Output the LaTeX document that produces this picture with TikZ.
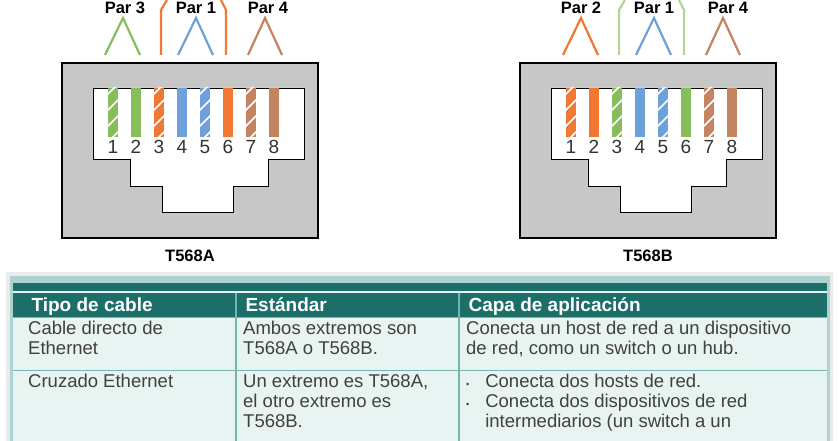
\documentclass[tikz,border=0pt]{standalone}
\usepackage{fontspec}
\setmainfont{Liberation Sans}
\begin{document}
\begin{tikzpicture}[x=1pt,y=-1pt,
  par/.style={font=\bfseries\fontsize{16.5}{16}\selectfont,anchor=base},
  num/.style={font=\fontsize{19}{19}\selectfont,text=black!80},
  lbl/.style={font=\bfseries\fontsize{16.5}{16}\selectfont},
  chev/.style={line width=2.2pt},
  hdr/.style={font=\fontsize{19}{19}\selectfont\bfseries,text=white,anchor=base west},
  cell/.style={font=\fontsize{18.5}{20}\selectfont,text=black!75,anchor=north west,align=left,inner sep=1pt}]
\definecolor{wg}{RGB}{134,190,90}
\definecolor{wgl}{RGB}{176,214,150}
\definecolor{wo}{RGB}{240,120,50}
\definecolor{wb}{RGB}{110,160,220}
\definecolor{wn}{RGB}{196,132,96}
\definecolor{tealdk}{RGB}{28,110,104}
\definecolor{teallt}{RGB}{232,244,242}
\definecolor{tealbd}{RGB}{120,180,175}
\useasboundingbox (0,0) rectangle (839,441);
\fill[white] (0,0) rectangle (839,441);
\newcommand\wire[4]{% x offset, center, color, striped
  \fill[#3] (#1+#2-5,88) rectangle (#1+#2+5,137);
  \ifnum#4=1
  \begin{scope}
  \clip (#1+#2-5,88) rectangle (#1+#2+5,137);
  \foreach \yy in {96,112,128,144}{\draw[white,line width=1.6pt] (#1+#2-7,\yy) -- (#1+#2+7,\yy-14);}
  \end{scope}\fi}
\newcommand\jack[1]{%
  \draw[line width=2pt,fill=black!22] (#1+62,63) rectangle (#1+318,238);
  \draw[line width=0.8pt,fill=white] (#1+93,88) -- (#1+304,88) -- (#1+304,159) -- (#1+268,159) -- (#1+268,186) -- (#1+233,186) -- (#1+233,212) -- (#1+162,212) -- (#1+162,186) -- (#1+130,186) -- (#1+130,159) -- (#1+93,159) -- cycle;
  \foreach \n [count=\i from 0] in {1,...,8}{\node[num] (n#1\n) at (#1+113+23*\i,147) {\n};}}
% Left jack T568A
\jack{0}
\wire{0}{113}{wg}{1}\wire{0}{136}{wg}{0}\wire{0}{159}{wo}{1}\wire{0}{182}{wb}{0}
\wire{0}{205}{wb}{1}\wire{0}{228}{wo}{0}\wire{0}{251}{wn}{1}\wire{0}{274}{wn}{0}
\draw[chev,wg] (105,55) -- (123,18) -- (140,55);
\draw[chev,wb] (178,55) -- (196,18) -- (213,55);
\draw[chev,wn] (248,55) -- (265,18) -- (282,55);
\draw[chev,wo] (161,55) -- (161,10) -- (167,0);
\draw[chev,wo] (226,55) -- (226,10) -- (221,0);
\node[par] (p3a) at (125,14) {Par 3};
\node[par] (p1a) at (196,14) {Par 1};
\node[par] (p4a) at (268,14) {Par 4};
\node[lbl] (ta) at (190,256) {T568A};
% Right jack T568B
\jack{458}
\wire{458}{113}{wo}{1}\wire{458}{136}{wo}{0}\wire{458}{159}{wg}{1}\wire{458}{182}{wb}{0}
\wire{458}{205}{wb}{1}\wire{458}{228}{wg}{0}\wire{458}{251}{wn}{1}\wire{458}{274}{wn}{0}
\draw[chev,wo] (563,55) -- (581,18) -- (598,55);
\draw[chev,wb] (636,55) -- (654,18) -- (671,55);
\draw[chev,wn] (706,55) -- (723,18) -- (740,55);
\draw[chev,wgl] (619,55) -- (619,10) -- (625,0);
\draw[chev,wgl] (684,55) -- (684,10) -- (679,0);
\node[par] (p2b) at (581,14) {Par 2};
\node[par] (p1b) at (654,14) {Par 1};
\node[par] (p4b) at (728,14) {Par 4};
\node[lbl] (tb) at (648,256) {T568B};
% Table
\fill[black!8] (6,272) rectangle (833,441);
\fill[tealbd!60] (10,276) rectangle (830,441);
\fill[tealdk] (13,283) rectangle (827,291);
\fill[teallt] (13,291) rectangle (827,441);
\fill[tealdk] (13,293) rectangle (827,317);
\draw[tealbd,line width=1pt] (13,370) -- (827,370) (13,317) -- (827,317);
\draw[tealbd,line width=1.5pt] (236,293) -- (236,441) (459,293) -- (459,441);
\node[hdr] (h1) at (28,312) {Tipo de cable};
\node[hdr] (h2) at (242,312) {Estándar};
\node[hdr] (h3) at (465,312) {Capa de aplicación};
\node[cell] (c11) at (27,320) {Cable directo de\\Ethernet};
\node[cell] (c12) at (242,320) {Ambos extremos son\\T568A o T568B.};
\node[cell] (c13) at (465,320) {Conecta un host de red a un dispositivo\\de red, como un switch o un hub.};
\node[cell] (c21) at (27,373) {Cruzado Ethernet};
\node[cell] (c22) at (242,373) {Un extremo es T568A,\\el otro extremo es\\T568B.};
\node[cell] (c23) at (465,373) {{\small\textbullet}\hspace{16pt}Conecta dos hosts de red.\\{\small\textbullet}\hspace{16pt}Conecta dos dispositivos de red\\\phantom{{\small\textbullet}}\hspace{16pt}intermediarios (un switch a un};
\end{tikzpicture}
\end{document}
